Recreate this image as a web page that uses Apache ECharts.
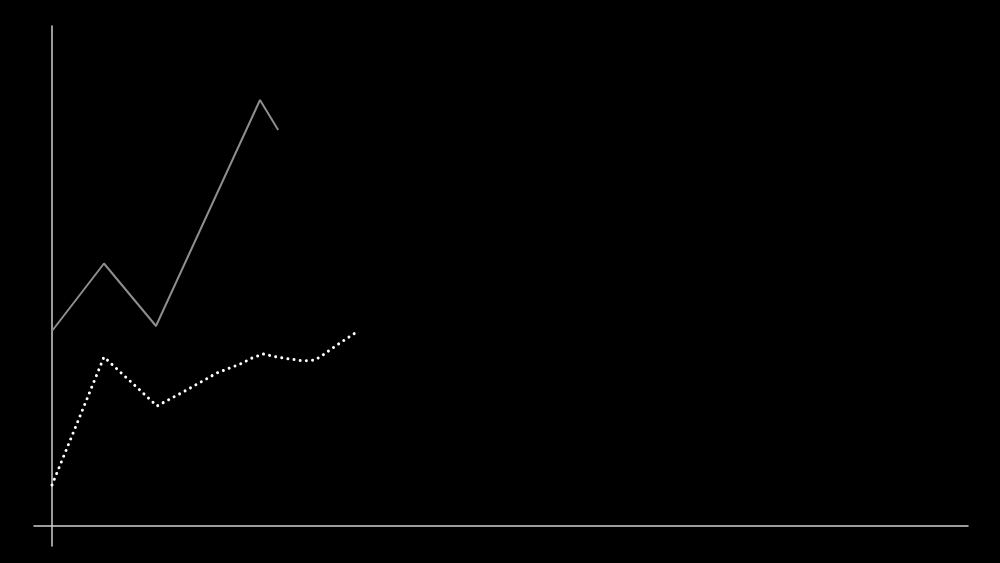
<!DOCTYPE html>
<html>
<head>
<meta charset="utf-8">
<script src="https://cdn.jsdelivr.net/npm/echarts@6/dist/echarts.min.js"></script>
<style>
html,body{margin:0;padding:0;background:#000;}
#c{width:1000px;height:563px;}
</style>
</head>
<body>
<div id="c"></div>
<script>
// Solid gray series (x position in step units, y value)
const solidX = [0, 1, 2, 4, 4.35];
const solidY = [39.0, 52.5, 40.0, 85.2, 79.2];
// Dotted white series
const dottedX = [0, 1, 2.02, 2.52, 3.17, 3.62, 3.85, 4.06, 4.33, 4.58, 4.83, 5.06, 5.21, 5.48, 5.86];
const dottedY = [8.2, 33.8, 24.0, 26.8, 30.6, 32.4, 33.6, 34.4, 33.8, 33.4, 33.0, 33.2, 34.2, 36.2, 38.8];

const chart = echarts.init(document.getElementById('c'));
const hidden = {show:false};
chart.setOption({
  backgroundColor:'#000',
  animation:false,
  grid:{left:34, right:32, top:26, bottom:17},
  xAxis:{type:'value', min:-0.346, max:17.615,
    axisLine:{show:true, onZero:true, lineStyle:{color:'#cfcfcf', width:1.5}},
    axisTick:hidden, axisLabel:hidden, splitLine:hidden},
  yAxis:{type:'value', min:-4, max:100,
    axisLine:{show:true, onZero:true, lineStyle:{color:'#cfcfcf', width:1.5}},
    axisTick:hidden, axisLabel:hidden, splitLine:hidden},
  series:[
    {type:'line', data:solidX.map((x,i)=>[x, solidY[i]]), showSymbol:false,
      lineStyle:{color:'#8e8e8e', width:2}},
    {type:'line', data:dottedX.map((x,i)=>[x, dottedY[i]]), showSymbol:false,
      lineStyle:{color:'#ffffff', width:3, type:[0.01, 6.2], cap:'round', join:'round'}}
  ]
});
</script>
</body>
</html>
